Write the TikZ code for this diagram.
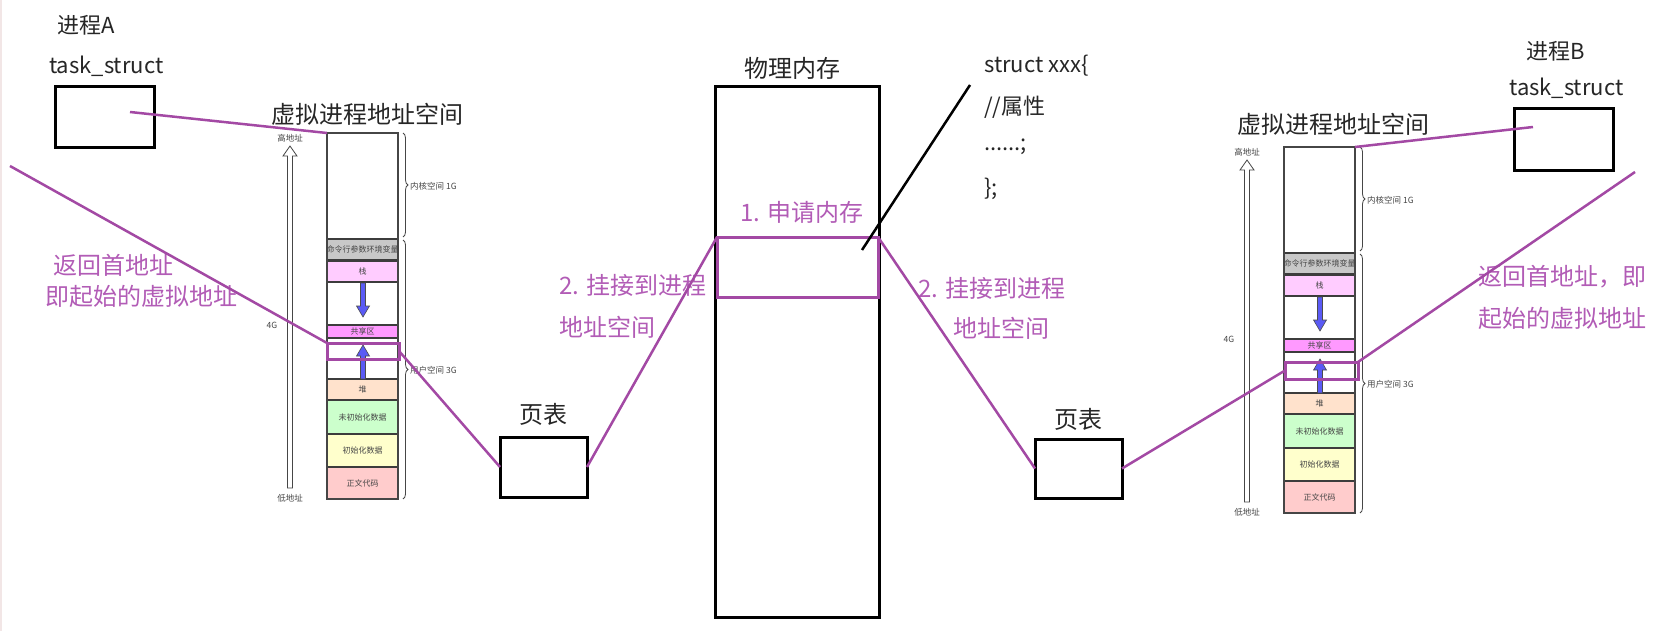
\documentclass[tikz,border=0pt]{standalone}
\usepackage{fontspec}
\setmainfont{Noto Sans CJK SC}
\usetikzlibrary{decorations.pathreplacing}
\definecolor{purp}{RGB}{163,73,164}
\definecolor{ptext}{RGB}{178,92,182}
\definecolor{cgray}{RGB}{200,200,200}
\definecolor{cpink}{RGB}{255,204,255}
\definecolor{cmag}{RGB}{255,153,255}
\definecolor{cpeach}{RGB}{255,226,204}
\definecolor{cgreen}{RGB}{204,255,204}
\definecolor{cyellow}{RGB}{255,255,204}
\definecolor{cred}{RGB}{255,204,204}
\definecolor{cblue}{RGB}{90,90,245}
\definecolor{dline}{RGB}{60,60,60}
\definecolor{sgray}{RGB}{70,70,70}
\definecolor{edge}{RGB}{242,230,230}
\tikzset{
  blbox/.style={draw=black, line width=3, fill=none, inner sep=0, outer sep=0},
  prect/.style={draw=purp, line width=3, inner sep=0, outer sep=0},
  pline/.style={draw=purp, line width=2.5},
  bigtxt/.style={font=\fontsize{24}{28}\selectfont, inner sep=0, anchor=west, text=black!85},
  midtxt/.style={font=\fontsize{22}{26}\selectfont, inner sep=0, anchor=west, text=black!85},
  ptxt/.style={font=\fontsize{24}{28}\selectfont, inner sep=0, anchor=west, text=ptext},
  smalltxt/.style={font=\fontsize{8}{9}\selectfont, inner sep=0, text=sgray},
  sidetxt/.style={font=\fontsize{8.5}{9}\selectfont, inner sep=0, text=sgray},
  sepline/.style={draw=dline, line width=1.5},
  colline/.style={draw=sgray, line width=1.2},
  bracest/.style={draw=sgray, line width=0.8, decorate, decoration={brace, amplitude=5pt}},
  blarrow/.style={fill=cblue, draw=black!70, line width=0.6},
  hollow/.style={fill=white, draw=sgray, line width=0.8}
}
\newcommand\addrcol[1]{%
  \fill[white] (0,0) rectangle (71,366);
  \foreach \ya/\yb/\cc/\lbl [count=\i] in {106/127/cgray/命令行参数环境变量, 128/149/cpink/栈, 192/205/cmag/共享区, 246/267/cpeach/堆, 267/301/cgreen/未初始化数据, 301/334/cyellow/初始化数据, 334/366/cred/正文代码}{
    \fill[\cc] (0,\ya) rectangle (71,\yb);
    \draw[sepline] (0,\ya) -- (71,\ya);
    \draw[sepline] (0,\yb) -- (71,\yb);
    \node[smalltxt] (#1s\i) at (35.5,{(\ya+\yb)/2}) {\lbl};
  }
  \draw[colline] (0,0) rectangle (71,366);
  \coordinate (#1tl) at (0,0);
  \coordinate (#1tr) at (71,0);
  % blue arrows
  \draw[blarrow] (33.5,150) -- (33.5,173) -- (29.5,173) -- (36,184) -- (42.5,173) -- (38.5,173) -- (38.5,150) -- cycle;
  \draw[blarrow] (33.5,246) -- (33.5,223) -- (29.5,223) -- (36,212) -- (42.5,223) -- (38.5,223) -- (38.5,246) -- cycle;
  % hollow address arrow
  \draw[hollow] (-39.5,355) -- (-39.5,23) -- (-44,23) -- (-37,13) -- (-30,23) -- (-34.5,23) -- (-34.5,355) -- cycle;
  \node[sidetxt] (#1hi) at (-37,5) {高地址};
  \node[sidetxt] (#1lo) at (-37,365) {低地址};
  \node[sidetxt] (#1g4) at (-55,192) {4G};
  % braces
  \draw[bracest] (76,0) -- (76,104);
  \draw[bracest] (76,107) -- (76,366);
  \node[sidetxt, anchor=west] (#1k) at (83,53) {内核空间 1G};
  \node[sidetxt, anchor=west] (#1u) at (83,237) {用户空间 3G};
}
\begin{document}
\begin{tikzpicture}[x=1pt, y=-1pt]
\useasboundingbox (0,0) rectangle (1659,631);
\fill[white] (0,0) rectangle (1659,631);
\draw[edge, line width=2] (1,0) -- (1,631);

% ---------- process A ----------
\node[midtxt] (pA) at (57,25) {进程A};
\node[midtxt] (tsA) at (49,66) {task\_struct};
\node[blbox, minimum width=99, minimum height=61, anchor=north west] (tA) at (55,87) {};
\coordinate (tAin) at (130,112);
\node[bigtxt] (vtA) at (271,114) {虚拟进程地址空间};
\begin{scope}[shift={(327,133)}]
  \addrcol{A}
\end{scope}
\node[prect, minimum width=72, minimum height=16, anchor=north west] (rA) at (327,343) {};
\coordinate (freeA) at (10,166);
\node[ptxt] (retA1) at (53,265) {返回首地址};
\node[ptxt] (retA2) at (45,296) {即起始的虚拟地址};

% page table A
\node[bigtxt, anchor=center] (ptAl) at (543,414) {页表};
\node[blbox, minimum width=87, minimum height=60, anchor=north west] (ptA) at (500,437) {};

% ---------- physical memory ----------
\node[bigtxt, anchor=center] (physl) at (792,68) {物理内存};
\node[blbox, minimum width=164, minimum height=530, anchor=north west] (phys) at (715,87) {};
\node[prect, minimum width=161, minimum height=60, anchor=north west] (prq) at (717,237) {};
\node[ptxt] (req) at (740,212) {1. 申请内存};
\node[ptxt] (hkA1) at (559,285) {2. 挂接到进程};
\node[ptxt] (hkA2) at (559,327) {地址空间};
\node[ptxt] (hkB1) at (918,288) {2. 挂接到进程};
\node[ptxt] (hkB2) at (953,328) {地址空间};

% struct text
\node[midtxt] (st1) at (984,66) {struct xxx\{};
\node[midtxt] (st2) at (984,107) {//属性};
\node[midtxt] (st3) at (984,147) {......;};
\node[midtxt] (st4) at (984,189) {\};};
\coordinate (bk1) at (970,85);
\coordinate (bk2) at (862,250);

% page table B
\node[bigtxt, anchor=center] (ptBl) at (1078,419) {页表};
\node[blbox, minimum width=87, minimum height=59, anchor=north west] (ptB) at (1035,439) {};

% ---------- process B ----------
\node[midtxt] (pB) at (1526,51) {进程B};
\node[midtxt] (tsB) at (1509,88) {task\_struct};
\node[blbox, minimum width=99, minimum height=62, anchor=north west] (tB) at (1514,109) {};
\coordinate (tBin) at (1533,127);
\node[bigtxt] (vtB) at (1237,124) {虚拟进程地址空间};
\begin{scope}[shift={(1284,147)}]
  \addrcol{B}
\end{scope}
\node[prect, minimum width=73, minimum height=17, anchor=north west] (rB) at (1285,362) {};
\coordinate (freeB) at (1635,172);
\node[ptxt] (retB1) at (1478,277) {返回首地址，即};
\node[ptxt] (retB2) at (1478,318) {起始的虚拟地址};

% ---------- connectors ----------
\draw[pline] (tAin) -- (Atl);
\draw[pline] (freeA) -- (rA.north west);
\draw[pline] (rA.east) -- (ptA.west);
\draw[pline] (ptA.east) -- (prq.north west);
\draw[pline] (prq.north east) -- (ptB.west);
\draw[pline] (ptB.east) -- (rB.west);
\draw[pline] (rB.north east) -- (freeB);
\draw[pline] (tBin) -- (Btr);
\draw[black, line width=2.5] (bk1) -- (bk2);
\end{tikzpicture}
\end{document}
